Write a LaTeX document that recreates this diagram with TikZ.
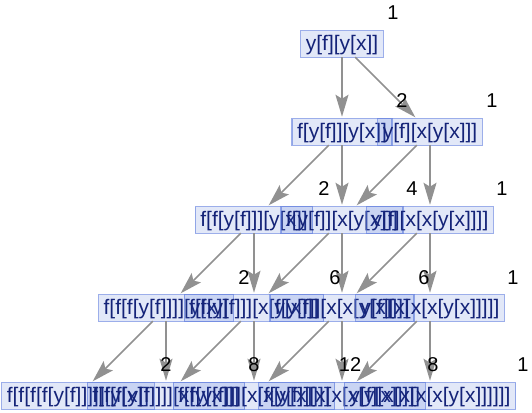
\documentclass[tikz,border=0pt]{standalone}
\usepackage{fontspec}
\setmainfont{Liberation Sans}
\usetikzlibrary{arrows.meta}
\definecolor{boxblue}{RGB}{60,100,210}
\definecolor{lineblue}{RGB}{90,120,220}
\definecolor{textblue}{RGB}{20,35,120}
\definecolor{edgegray}{RGB}{145,145,145}

\begin{document}
\begin{tikzpicture}[x=1pt,y=-1pt,
  state/.style={draw=lineblue,draw opacity=0.6,line width=1.3pt,fill=boxblue,fill opacity=0.15,
    text opacity=1,text=textblue,font=\fontsize{21}{25}\selectfont,
    inner xsep=5pt,inner ysep=3pt,text height=16.5pt,text depth=4pt,outer sep=0pt},
  count/.style={font=\fontsize{20}{24}\selectfont,inner sep=0pt,text height=14pt,text depth=0pt},
  move/.style={draw=edgegray,line width=1.7pt,shorten >=2pt,
    -{Stealth[length=22pt,width=13pt,inset=4pt]}}]
\useasboundingbox (0,0) rectangle (532,412);

\node[state] (n00) at (342,44) {y[f][y[x]]};

\node[state] (n11) at (342,132) {f[y[f]][y[x]]};
\node[state] (n10) at (430,132) {y[f][x[y[x]]]};

\node[state] (n22) at (254,220) {f[f[y[f]]][y[x]]};
\node[state] (n21) at (342,220) {f[y[f]][x[y[x]]]};
\node[state] (n20) at (430,220) {y[f][x[x[y[x]]]]};

\node[state] (n33) at (166,308) {f[f[f[y[f]]]][y[x]]};
\node[state] (n32) at (254,308) {f[f[y[f]]][x[y[x]]]};
\node[state] (n31) at (342,308) {f[y[f]][x[x[y[x]]]]};
\node[state] (n30) at (430,308) {y[f][x[x[x[y[x]]]]]};

\node[state] (n44) at (78,396) {f[f[f[f[y[f]]]]][y[x]]};
\node[state] (n43) at (166,396) {f[f[f[y[f]]]][x[y[x]]]};
\node[state] (n42) at (254,396) {f[f[y[f]]][x[x[y[x]]]]};
\node[state] (n41) at (342,396) {f[y[f]][x[x[x[y[x]]]]]};
\node[state] (n40) at (430,396) {y[f][x[x[x[x[y[x]]]]]]};

\draw[move] (n00) -- (n11);
\draw[move] (n00) -- (n10);

\draw[move] (n11) -- (n22);
\draw[move] (n11) -- (n21);
\draw[move] (n10) -- (n21);
\draw[move] (n10) -- (n20);

\draw[move] (n22) -- (n33);
\draw[move] (n22) -- (n32);
\draw[move] (n21) -- (n32);
\draw[move] (n21) -- (n31);
\draw[move] (n20) -- (n31);
\draw[move] (n20) -- (n30);

\draw[move] (n33) -- (n44);
\draw[move] (n33) -- (n43);
\draw[move] (n32) -- (n43);
\draw[move] (n32) -- (n42);
\draw[move] (n31) -- (n42);
\draw[move] (n31) -- (n41);
\draw[move] (n30) -- (n41);
\draw[move] (n30) -- (n40);

\node[count] (c00) at (393,13) {1};
\node[count] (c11) at (402,100) {2};
\node[count] (c10) at (492,100) {1};
\node[count] (c22) at (324,188) {2};
\node[count] (c21) at (412,188) {4};
\node[count] (c20) at (502,188) {1};
\node[count] (c33) at (244,277) {2};
\node[count] (c32) at (335,277) {6};
\node[count] (c31) at (424,277) {6};
\node[count] (c30) at (513,277) {1};
\node[count] (c44) at (166,364) {2};
\node[count] (c43) at (254,364) {8};
\node[count] (c42) at (350,364) {12};
\node[count] (c41) at (433,364) {8};
\node[count] (c40) at (523,364) {1};
\end{tikzpicture}
\end{document}
